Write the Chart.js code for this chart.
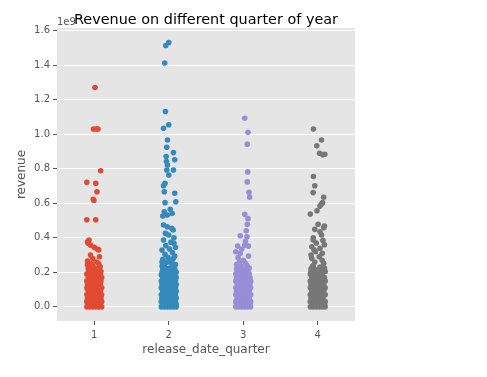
<!DOCTYPE html>
<html>
<head>
<meta charset="utf-8">
<script src="https://cdn.jsdelivr.net/npm/chart.js@4"></script>
<style>
  html, body { margin: 0; padding: 0; background: #ffffff; }
  #wrap { width: 487px; height: 377px; }
</style>
</head>
<body>
<div id="wrap"><canvas id="myChart"></canvas></div>
<script>
// revenue in units of 1e9, jitter = horizontal strip offset
const quarters = ['1', '2', '3', '4'];
const yTicks = [0, 0.2, 0.4, 0.6, 0.8, 1.0, 1.2, 1.4, 1.6];

const q1Revenue = [
  1.271, 1.031, 1.031, 1.031, 0.789, 0.722, 0.716, 0.667, 0.623, 0.617, 0.505, 0.505,
  0.387, 0.375, 0.368, 0.358, 0.345, 0.335, 0.330, 0.300, 0.290, 0.280, 0.265, 0.260, 0.242, 0.232, 0.225, 0.215,
  0.250, 0.250, 0.235, 0.220, 0.220,
  0.205, 0.205, 0.205,
  0.190, 0.190, 0.190, 0.190, 0.190,
  0.170, 0.170, 0.170, 0.170,
  0.150, 0.150, 0.150, 0.150, 0.150,
  0.130, 0.130, 0.130, 0.130,
  0.110, 0.110, 0.110, 0.110, 0.110,
  0.090, 0.090, 0.090, 0.090,
  0.070, 0.070, 0.070, 0.070, 0.070,
  0.050, 0.050, 0.050, 0.050, 0.050,
  0.030, 0.030, 0.030, 0.030, 0.030,
  0.015, 0.015, 0.015, 0.015, 0.015,
  0.000, 0.000, 0.000, 0.000, 0.000, 0.000
];
const q1Jitter = [
  0.01, -0.01, 0.03, 0.05, 0.086, -0.10, 0.02, 0.036, -0.013, -0.005, -0.10, 0.02,
  -0.07, -0.09, -0.08, -0.05, 0.00, 0.04, 0.06, -0.05, 0.07, -0.02, -0.09, 0.03, -0.09, 0.08, 0.00, -0.05,
  -0.04, 0.06, -0.02, -0.08, 0.05,
  -0.07, 0.02, 0.09,
  -0.10, -0.05, 0.00, 0.05, 0.08,
  -0.08, -0.02, 0.04, 0.10,
  -0.10, -0.04, 0.01, 0.06, 0.09,
  -0.09, -0.03, 0.03, 0.08,
  -0.10, -0.05, 0.01, 0.06, 0.10,
  -0.08, -0.02, 0.03, 0.08,
  -0.10, -0.04, 0.00, 0.05, 0.10,
  -0.09, -0.03, 0.02, 0.07, 0.09,
  -0.10, -0.05, 0.01, 0.05, 0.10,
  -0.08, -0.04, 0.00, 0.04, 0.08,
  -0.10, -0.06, -0.02, 0.02, 0.06, 0.10
];

const q2Revenue = [
  1.532, 1.515, 1.413, 1.132, 1.055, 1.035, 0.967, 0.925, 0.894, 0.871, 0.852, 0.842,
  0.822, 0.793, 0.793, 0.764, 0.716, 0.702, 0.667, 0.658, 0.609, 0.604, 0.565, 0.551,
  0.542, 0.532, 0.526, 0.474, 0.464, 0.455, 0.445, 0.426, 0.416, 0.400, 0.387, 0.375,
  0.368, 0.355, 0.345, 0.335, 0.329, 0.315, 0.305, 0.295, 0.285, 0.275, 0.265, 0.255,
  0.245, 0.235, 0.225, 0.215, 0.210,
  0.280, 0.260, 0.260, 0.240, 0.240, 0.220, 0.220, 0.220,
  0.200, 0.200, 0.200, 0.200, 0.200,
  0.185, 0.185, 0.185, 0.185, 0.185,
  0.170, 0.170, 0.170, 0.170, 0.170,
  0.150, 0.150, 0.150, 0.150, 0.150,
  0.130, 0.130, 0.130, 0.130, 0.130,
  0.110, 0.110, 0.110, 0.110, 0.110,
  0.090, 0.090, 0.090, 0.090, 0.090,
  0.070, 0.070, 0.070, 0.070, 0.070,
  0.050, 0.050, 0.050, 0.050, 0.050,
  0.030, 0.030, 0.030, 0.030, 0.030,
  0.015, 0.015, 0.015, 0.015, 0.015,
  0.000, 0.000, 0.000, 0.000, 0.000, 0.000
];
const q2Jitter = [
  0.00, -0.04, -0.054, -0.045, 0.00, -0.07, -0.017, -0.027, 0.063, -0.035, 0.08, -0.03,
  -0.017, -0.027, 0.063, 0.00, -0.05, -0.07, -0.06, 0.08, 0.095, -0.05, 0.02, -0.06,
  0.045, -0.02, -0.08, -0.07, -0.02, 0.04, 0.06, -0.045, 0.00, 0.07, -0.07, 0.03,
  0.07, -0.04, 0.09, 0.01, -0.09, 0.05, -0.05, 0.08, -0.01, -0.08, 0.04, -0.04,
  0.09, -0.09, 0.01, -0.05, 0.06,
  0.06, -0.09, 0.01, -0.06, 0.05, -0.08, 0.08, -0.02,
  -0.09, -0.04, 0.01, 0.06, 0.10,
  -0.10, -0.06, -0.01, 0.04, 0.08,
  -0.08, -0.03, 0.02, 0.07, 0.10,
  -0.10, -0.05, 0.00, 0.05, 0.09,
  -0.09, -0.04, 0.01, 0.06, 0.10,
  -0.10, -0.05, 0.00, 0.04, 0.09,
  -0.08, -0.03, 0.02, 0.07, 0.10,
  -0.10, -0.05, 0.00, 0.05, 0.09,
  -0.09, -0.04, 0.01, 0.06, 0.10,
  -0.10, -0.05, 0.00, 0.05, 0.09,
  -0.08, -0.03, 0.02, 0.07, 0.10,
  -0.10, -0.06, -0.02, 0.02, 0.06, 0.10
];

const q3Revenue = [
  1.093, 1.012, 0.943, 0.782, 0.724, 0.664, 0.635, 0.536, 0.511, 0.478,
  0.441, 0.412, 0.406, 0.380, 0.358, 0.352, 0.352, 0.335, 0.319, 0.310,
  0.294, 0.285, 0.270, 0.252, 0.245, 0.235, 0.225, 0.215, 0.210,
  0.260, 0.240, 0.220, 0.220, 0.220,
  0.205, 0.205, 0.205,
  0.190, 0.190, 0.190, 0.190,
  0.170, 0.170, 0.170, 0.170,
  0.150, 0.150, 0.150, 0.150, 0.150,
  0.130, 0.130, 0.130, 0.130,
  0.110, 0.110, 0.110, 0.110, 0.110,
  0.090, 0.090, 0.090, 0.090,
  0.070, 0.070, 0.070, 0.070, 0.070,
  0.050, 0.050, 0.050, 0.050,
  0.030, 0.030, 0.030, 0.030, 0.030,
  0.015, 0.015, 0.015, 0.015, 0.015,
  0.000, 0.000, 0.000, 0.000, 0.000, 0.000
];
const q3Jitter = [
  0.02, 0.064, 0.054, 0.06, 0.054, 0.077, 0.086, 0.02, 0.064, 0.054,
  0.04, -0.04, 0.05, 0.03, 0.02, 0.07, -0.075, -0.02, -0.10, -0.04,
  0.07, -0.07, 0.00, 0.03, -0.09, -0.03, 0.08, -0.06, 0.03,
  -0.05, 0.05, -0.09, 0.06, -0.01,
  -0.08, -0.01, 0.06,
  -0.10, -0.04, 0.02, 0.08,
  -0.09, -0.03, 0.03, 0.09,
  -0.10, -0.05, 0.00, 0.05, 0.10,
  -0.08, -0.02, 0.04, 0.09,
  -0.10, -0.05, 0.01, 0.06, 0.10,
  -0.09, -0.03, 0.02, 0.08,
  -0.10, -0.04, 0.01, 0.05, 0.10,
  -0.08, -0.03, 0.03, 0.08,
  -0.10, -0.05, 0.00, 0.05, 0.10,
  -0.09, -0.04, 0.01, 0.06, 0.09,
  -0.10, -0.06, -0.02, 0.02, 0.06, 0.10
];

const q4Revenue = [
  1.030, 0.967, 0.933, 0.890, 0.882, 0.884, 0.755, 0.702, 0.662, 0.635,
  0.604, 0.596, 0.584, 0.557, 0.538, 0.478, 0.468, 0.459, 0.449, 0.435,
  0.416, 0.400, 0.387, 0.385, 0.370, 0.360, 0.348, 0.340, 0.330, 0.319,
  0.310, 0.300, 0.290, 0.281, 0.270, 0.260, 0.252, 0.240, 0.230, 0.220, 0.210,
  0.235, 0.225, 0.215,
  0.205, 0.205, 0.205, 0.205,
  0.190, 0.190, 0.190, 0.190,
  0.170, 0.170, 0.170, 0.170,
  0.150, 0.150, 0.150, 0.150, 0.150,
  0.130, 0.130, 0.130, 0.130,
  0.110, 0.110, 0.110, 0.110, 0.110,
  0.090, 0.090, 0.090, 0.090,
  0.070, 0.070, 0.070, 0.070, 0.070,
  0.050, 0.050, 0.050, 0.050,
  0.030, 0.030, 0.030, 0.030, 0.030,
  0.015, 0.015, 0.015, 0.015, 0.015,
  0.000, 0.000, 0.000, 0.000, 0.000, 0.000
];
const q4Jitter = [
  -0.058, 0.05, -0.013, 0.024, 0.068, 0.095, -0.058, -0.04, -0.062, 0.08,
  0.065, 0.05, 0.03, -0.01, -0.10, 0.005, 0.09, 0.08, -0.04, 0.03,
  0.05, -0.06, -0.06, 0.07, -0.02, 0.09, -0.08, 0.03, -0.05, -0.03,
  0.06, -0.09, 0.02, -0.08, 0.06, -0.04, 0.08, -0.06, 0.03, -0.09, 0.07,
  -0.07, 0.09, -0.03,
  -0.09, -0.02, 0.05, 0.10,
  -0.10, -0.05, 0.00, 0.06,
  -0.08, -0.02, 0.03, 0.09,
  -0.10, -0.05, 0.01, 0.06, 0.10,
  -0.09, -0.03, 0.02, 0.08,
  -0.10, -0.04, 0.01, 0.05, 0.10,
  -0.08, -0.03, 0.03, 0.08,
  -0.10, -0.05, 0.00, 0.05, 0.10,
  -0.09, -0.04, 0.02, 0.07,
  -0.10, -0.05, 0.00, 0.05, 0.10,
  -0.08, -0.03, 0.02, 0.07, 0.09,
  -0.10, -0.06, -0.02, 0.02, 0.06, 0.10
];

const colores = ['#E24A33', '#348ABD', '#988ED5', '#777777'];

function puntos(q, rev, jit) {
  return rev.map((v, i) => ({ x: q + jit[i], y: v }));
}

// fondo gris del area y textos de encabezado
const fondo = {
  id: 'fondo',
  beforeDraw(chart) {
    const { ctx, chartArea: a } = chart;
    ctx.save();
    ctx.fillStyle = '#E5E5E5';
    ctx.fillRect(a.left, a.top, a.right - a.left, a.bottom - a.top);
    ctx.restore();
  },
  afterDraw(chart) {
    const { ctx, chartArea: a } = chart;
    ctx.save();
    ctx.fillStyle = '#000000';
    ctx.font = '14.4px "DejaVu Sans"';
    ctx.textAlign = 'center';
    ctx.textBaseline = 'alphabetic';
    ctx.fillText('Revenue on different quarter of year', (a.left + a.right) / 2, 24);
    ctx.fillStyle = '#555555';
    ctx.font = '10px "DejaVu Sans"';
    ctx.textAlign = 'left';
    ctx.fillText('1e9', a.left, 25);
    ctx.restore();
  }
};

const ctx = document.getElementById('myChart');
new Chart(ctx, {
  type: 'scatter',
  plugins: [fondo],
  data: {
    datasets: [
      { data: puntos(1, q1Revenue, q1Jitter), backgroundColor: colores[0] },
      { data: puntos(2, q2Revenue, q2Jitter), backgroundColor: colores[1] },
      { data: puntos(3, q3Revenue, q3Jitter), backgroundColor: colores[2] },
      { data: puntos(4, q4Revenue, q4Jitter), backgroundColor: colores[3] }
    ]
  },
  options: {
    responsive: true,
    maintainAspectRatio: false,
    animation: false,
    events: [],
    elements: { point: { radius: 2.8, borderWidth: 0, hoverRadius: 2.8 } },
    layout: { padding: { top: 28, right: 132, left: 0, bottom: 0 } },
    plugins: {
      legend: { display: false },
      tooltip: { enabled: false }
    },
    scales: {
      x: {
        type: 'linear',
        min: 0.5,
        max: 4.5,
        afterBuildTicks: s => { s.ticks = quarters.map((q, i) => ({ value: i + 1 })); },
        afterFit: s => { s.height = 56; },
        border: { display: false },
        grid: { drawOnChartArea: false, tickColor: '#555555', tickLength: 4 },
        ticks: {
          color: '#555555',
          padding: 4,
          font: { family: 'DejaVu Sans', size: 10 },
          callback: v => quarters[Math.round(v) - 1]
        },
        title: {
          display: true,
          text: 'release_date_quarter',
          color: '#555555',
          font: { family: 'DejaVu Sans', size: 12 },
          padding: { top: 0, bottom: 20 }
        }
      },
      y: {
        min: -0.082,
        max: 1.616,
        afterBuildTicks: s => { s.ticks = yTicks.map(v => ({ value: v })); },
        afterFit: s => { s.width = 57; },
        border: { display: false },
        grid: { color: '#FFFFFF', lineWidth: 1, tickColor: '#555555', tickLength: 4 },
        ticks: {
          color: '#555555',
          padding: 3,
          font: { family: 'DejaVu Sans', size: 10 },
          callback: v => v.toFixed(1)
        },
        title: {
          display: true,
          text: 'revenue',
          color: '#555555',
          font: { family: 'DejaVu Sans', size: 12 },
          padding: { top: 15, bottom: 0 }
        }
      }
    }
  }
});
</script>
</body>
</html>
